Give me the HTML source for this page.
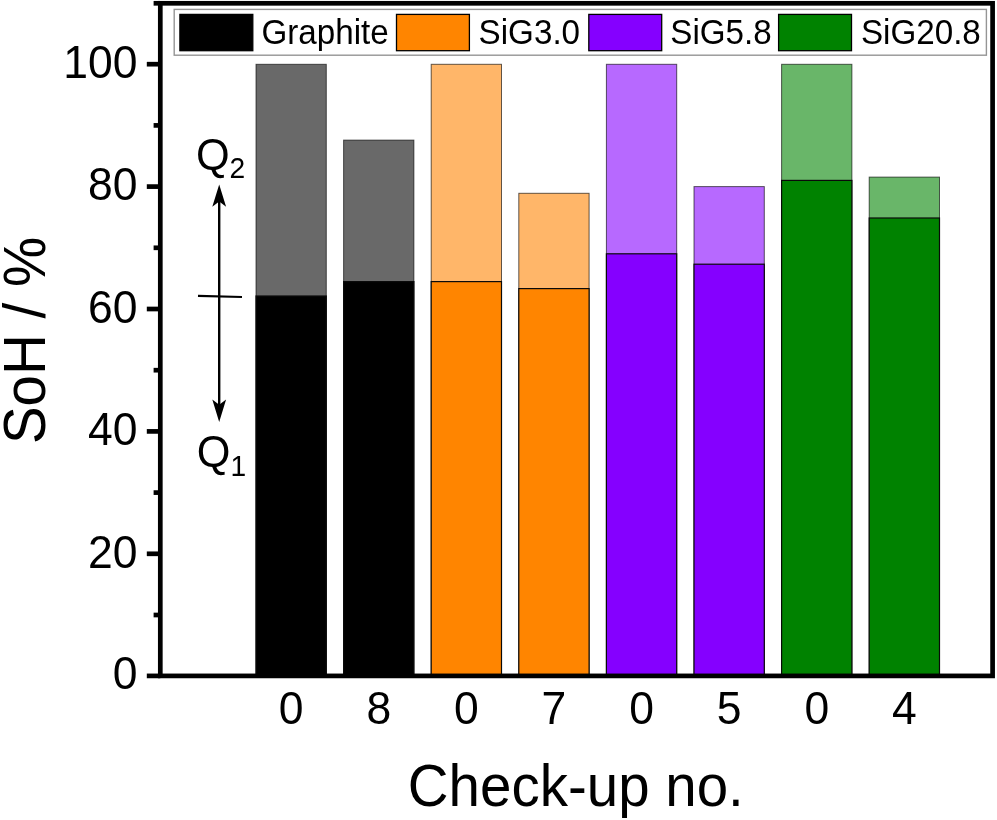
<!DOCTYPE html>
<html><head><meta charset="utf-8"><title>SoH chart</title>
<style>html,body{margin:0;padding:0;background:#fff}svg{display:block}text{font-family:"Liberation Sans",Arial,sans-serif;fill:#000}</style></head><body>
<svg width="997" height="820" viewBox="0 0 997 820">
<rect x="0" y="0" width="997" height="820" fill="#fff"/>
<rect x="256.0" y="64.3" width="70.3" height="611.3" fill="#696969" stroke="#000" stroke-opacity="0.62" stroke-width="1"/>
<rect x="256.0" y="296.0" width="70.3" height="379.6" fill="#000000" stroke="#0a0a0a" stroke-width="1.2"/>
<rect x="343.6" y="140.1" width="70.3" height="535.5" fill="#696969" stroke="#000" stroke-opacity="0.62" stroke-width="1"/>
<rect x="343.6" y="281.6" width="70.3" height="394.0" fill="#000000" stroke="#0a0a0a" stroke-width="1.2"/>
<rect x="431.2" y="64.3" width="70.3" height="611.3" fill="#FFB669" stroke="#000" stroke-opacity="0.62" stroke-width="1"/>
<rect x="431.2" y="281.6" width="70.3" height="394.0" fill="#FF8500" stroke="#0a0a0a" stroke-width="1.2"/>
<rect x="518.8" y="193.3" width="70.3" height="482.3" fill="#FFB669" stroke="#000" stroke-opacity="0.62" stroke-width="1"/>
<rect x="518.8" y="288.6" width="70.3" height="387.0" fill="#FF8500" stroke="#0a0a0a" stroke-width="1.2"/>
<rect x="606.4" y="64.3" width="70.3" height="611.3" fill="#B769FF" stroke="#000" stroke-opacity="0.62" stroke-width="1"/>
<rect x="606.4" y="253.8" width="70.3" height="421.8" fill="#8500FF" stroke="#0a0a0a" stroke-width="1.2"/>
<rect x="694.0" y="186.6" width="70.3" height="489.0" fill="#B769FF" stroke="#000" stroke-opacity="0.62" stroke-width="1"/>
<rect x="694.0" y="264.2" width="70.3" height="411.4" fill="#8500FF" stroke="#0a0a0a" stroke-width="1.2"/>
<rect x="781.6" y="64.3" width="70.3" height="611.3" fill="#69B669" stroke="#000" stroke-opacity="0.62" stroke-width="1"/>
<rect x="781.6" y="180.4" width="70.3" height="495.2" fill="#008200" stroke="#0a0a0a" stroke-width="1.2"/>
<rect x="869.2" y="177.1" width="70.3" height="498.5" fill="#69B669" stroke="#000" stroke-opacity="0.62" stroke-width="1"/>
<rect x="869.2" y="218.0" width="70.3" height="457.6" fill="#008200" stroke="#0a0a0a" stroke-width="1.2"/>
<rect x="160.3" y="3.3" width="832.3" height="672.6" fill="none" stroke="#000" stroke-width="4.7"/>
<line x1="146.8" x2="160.3" y1="675.9" y2="675.9" stroke="#000" stroke-width="4.7"/>
<line x1="153.6" x2="160.3" y1="615.0" y2="615.0" stroke="#000" stroke-width="4.7"/>
<line x1="146.8" x2="160.3" y1="553.8" y2="553.8" stroke="#000" stroke-width="4.7"/>
<line x1="153.6" x2="160.3" y1="492.6" y2="492.6" stroke="#000" stroke-width="4.7"/>
<line x1="146.8" x2="160.3" y1="431.4" y2="431.4" stroke="#000" stroke-width="4.7"/>
<line x1="153.6" x2="160.3" y1="370.2" y2="370.2" stroke="#000" stroke-width="4.7"/>
<line x1="146.8" x2="160.3" y1="309.0" y2="309.0" stroke="#000" stroke-width="4.7"/>
<line x1="153.6" x2="160.3" y1="247.8" y2="247.8" stroke="#000" stroke-width="4.7"/>
<line x1="146.8" x2="160.3" y1="186.6" y2="186.6" stroke="#000" stroke-width="4.7"/>
<line x1="153.6" x2="160.3" y1="125.4" y2="125.4" stroke="#000" stroke-width="4.7"/>
<line x1="146.8" x2="160.3" y1="64.2" y2="64.2" stroke="#000" stroke-width="4.7"/>
<line x1="153.6" x2="160.3" y1="3.3" y2="3.3" stroke="#000" stroke-width="4.7"/>
<text transform="translate(137.60,688.90) scale(1,1.041)" font-size="44.5" text-anchor="end">0</text>
<text transform="translate(137.60,567.50) scale(1,1.041)" font-size="44.5" text-anchor="end">20</text>
<text transform="translate(137.60,445.10) scale(1,1.041)" font-size="44.5" text-anchor="end">40</text>
<text transform="translate(137.60,322.70) scale(1,1.041)" font-size="44.5" text-anchor="end">60</text>
<text transform="translate(137.60,200.30) scale(1,1.041)" font-size="44.5" text-anchor="end">80</text>
<text transform="translate(137.60,77.90) scale(1,1.041)" font-size="44.5" text-anchor="end">100</text>
<text transform="translate(291.15,724.40) scale(1,1.041)" font-size="44.5" text-anchor="middle">0</text>
<text transform="translate(378.75,724.40) scale(1,1.041)" font-size="44.5" text-anchor="middle">8</text>
<text transform="translate(466.35,724.40) scale(1,1.041)" font-size="44.5" text-anchor="middle">0</text>
<text transform="translate(553.95,724.40) scale(1,1.041)" font-size="44.5" text-anchor="middle">7</text>
<text transform="translate(641.55,724.40) scale(1,1.041)" font-size="44.5" text-anchor="middle">0</text>
<text transform="translate(729.15,724.40) scale(1,1.041)" font-size="44.5" text-anchor="middle">5</text>
<text transform="translate(816.75,724.40) scale(1,1.041)" font-size="44.5" text-anchor="middle">0</text>
<text transform="translate(904.35,724.40) scale(1,1.041)" font-size="44.5" text-anchor="middle">4</text>
<text transform="translate(575.80,805.80) scale(1,1.041)" font-size="56.5" text-anchor="middle">Check-up no.</text>
<text transform="translate(45.20,340.50) rotate(-90) scale(1,1.041)" font-size="56.5" text-anchor="middle">SoH / %</text>
<rect x="174.2" y="9.4" width="812.2" height="45.8" fill="#fff" stroke="#959595" stroke-width="1.4"/>
<rect x="179.9" y="14.4" width="72.9" height="36.3" fill="#000000" stroke="#000" stroke-width="1.3"/>
<text transform="translate(261.50,44.30) scale(1,1.041)" font-size="33.2" text-anchor="start">Graphite</text>
<rect x="396.5" y="14.4" width="72.9" height="36.3" fill="#FF8500" stroke="#000" stroke-width="1.3"/>
<text transform="translate(478.60,44.30) scale(1,1.041)" font-size="33.2" text-anchor="start">SiG3.0</text>
<rect x="588.8" y="14.4" width="72.9" height="36.3" fill="#8500FF" stroke="#000" stroke-width="1.3"/>
<text transform="translate(670.30,44.30) scale(1,1.041)" font-size="33.2" text-anchor="start">SiG5.8</text>
<rect x="778.6" y="14.4" width="72.9" height="36.3" fill="#008200" stroke="#000" stroke-width="1.3"/>
<text transform="translate(860.90,44.30) scale(1,1.041)" font-size="33.2" text-anchor="start">SiG20.8</text>
<line x1="219.2" x2="219.2" y1="200" y2="406" stroke="#000" stroke-width="2.4"/>
<path d="M219.2 184.6 L226.1 206.7 L219.2 201.6 L212.29999999999998 206.7 Z" fill="#000"/>
<path d="M219.2 422 L226.1 399.5 L219.2 404.8 L212.29999999999998 399.5 Z" fill="#000"/>
<line x1="198" x2="242" y1="295.8" y2="297" stroke="#000" stroke-width="2.2"/>
<text transform="translate(195.9,169.7) scale(1,1.041)" font-size="43.3">Q<tspan font-size="28.2" dy="8.4">2</tspan></text>
<text transform="translate(196.7,466.9) scale(1,1.041)" font-size="43.3">Q<tspan font-size="28.2" dy="8.4">1</tspan></text>
</svg></body></html>
